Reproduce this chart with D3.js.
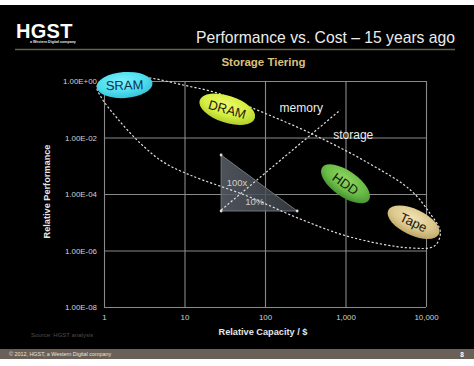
<!DOCTYPE html>
<html>
<head>
<meta charset="utf-8">
<script src="https://cdn.jsdelivr.net/npm/d3@7"></script>
<style>
  html, body { margin: 0; padding: 0; background: #fff; }
  svg { display: block; font-family: "Liberation Sans", Arial, sans-serif; }
</style>
</head>
<body>
<svg id="chart" width="474" height="366"></svg>
<script>
// ---------- data ----------
const tierNames = ["SRAM", "DRAM", "HDD", "Tape"];
const tierCapacity = [1.8, 34, 1000, 7000];
const tierPerformance = [0.72, 0.1, 2.3e-4, 1e-5];

const xTickValues = [1, 10, 100, 1000, 10000];
const xTickLabels = ["1", "10", "100", "1,000", "10,000"];
const yTickValues = [1, 1e-2, 1e-4, 1e-6, 1e-8];
const yTickLabels = ["1.00E+00", "1.00E-02", "1.00E-04", "1.00E-06", "1.00E-08"];

// dashed loop enclosing the tiers (capacity, performance)
const loopCapacity = [0.82, 1.58, 3.73, 9.6, 25.4, 65.5, 386, 1922, 6400, 11350, 15100, 12700, 6400, 1148, 274, 60, 11.7, 5.42, 2.8, 1.45, 0.92];
const loopPerformance = [0.665, 1.5, 1.28, 0.72, 0.376, 0.12, 0.0133, 1.25e-3, 1.39e-4, 1.96e-5, 4.5e-6, 1.44e-6, 1.23e-6, 3.0e-6, 1.3e-5, 8.5e-5, 4.7e-4, 1.36e-3, 6.4e-3, 0.049, 0.27];

// memory / storage divider
const dividerCapacity = [28.5, 861];
const dividerPerformance = [2.7e-5, 0.094];

// cost-performance triangle
const triangleCapacity = [28.5, 28.5, 251];
const trianglePerformance = [2.4e-3, 2.5e-5, 2.5e-5];

const annotationLabels = ["memory", "storage", "100x", "10%"];
const annotationCapacity = [282, 705, 45, 74.5];
const annotationPerformance = [0.11, 0.0123, 2.45e-4, 5.2e-5];

// ---------- styles ----------
const tierStyle = {
  SRAM: { rx: 28, ry: 13, angle: -4, text: -2, light: "#7ef0fb", mid: "#4fe0f0", dark: "#33bfd6", ink: "#0f2f4a" },
  DRAM: { rx: 29, ry: 13.5, angle: 18, text: 16, light: "#eef86a", mid: "#d6ee42", dark: "#aac62c", ink: "#1a1a10" },
  HDD:  { rx: 28.5, ry: 13, angle: 35, text: 35, light: "#8fd660", mid: "#6bbd48", dark: "#3f8a2c", ink: "#142010" },
  Tape: { rx: 28, ry: 13, angle: 25, text: 25, light: "#f0e2b2", mid: "#dcc98e", dark: "#b89f62", ink: "#1a1408" }
};

const svg = d3.select("#chart");
const W = 474, H = 366;

// slide background
svg.append("rect").attr("x", 0).attr("y", 0).attr("width", W).attr("height", H).attr("fill", "#fff");
svg.append("rect").attr("x", 0).attr("y", 5).attr("width", W).attr("height", 344).attr("fill", "#000");
svg.append("rect").attr("x", 0).attr("y", 349).attr("width", W).attr("height", 10).attr("fill", "#6b6058");

// header
svg.append("text").attr("x", 16).attr("y", 37.5).attr("fill", "#fff")
  .attr("font-size", 20).attr("font-weight", "bold").attr("letter-spacing", 0.3).text("HGST");
svg.append("text").attr("x", 30).attr("y", 43).attr("fill", "#e8e8e8")
  .attr("font-size", 3.6).attr("font-weight", "bold").text("a Western Digital company");
svg.append("text").attr("x", 455).attr("y", 43).attr("text-anchor", "end").attr("fill", "#ececec")
  .attr("font-size", 15.7).text("Performance vs. Cost \u2013 15 years ago");
svg.append("line").attr("x1", 15).attr("x2", 455).attr("y1", 49.5).attr("y2", 49.5)
  .attr("stroke", "#66614a").attr("stroke-width", 1.5);
svg.append("text").attr("x", 263.5).attr("y", 66).attr("text-anchor", "middle").attr("fill", "#d9c27c")
  .attr("font-size", 11.5).attr("font-weight", "bold").text("Storage Tiering");

// scales
const x = d3.scaleLog().domain([1, 1e4]).range([104, 426]);
const y = d3.scaleLog().domain([1e-8, 1]).range([307, 81]);

// grid + axes
const gx = svg.append("g").attr("transform", "translate(0,307)")
  .call(d3.axisBottom(x).tickValues(xTickValues).tickSize(-226).tickPadding(7)
    .tickFormat((d, i) => xTickLabels[i]));
const gy = svg.append("g").attr("transform", "translate(104,0)")
  .call(d3.axisLeft(y).tickValues(yTickValues).tickSize(-322).tickPadding(7)
    .tickFormat((d, i) => yTickLabels[i]));
[gx, gy].forEach(g => {
  g.select(".domain").remove();
  g.selectAll(".tick line").attr("stroke", "#8a8a8a").attr("stroke-width", 1.1);
  g.selectAll(".tick text").attr("fill", "#d2d2d2").attr("font-size", 7.9)
    .attr("font-family", "'Liberation Sans', Arial, sans-serif");
});

// axis titles
svg.append("text").attr("x", 263).attr("y", 334.5).attr("text-anchor", "middle").attr("fill", "#e6e6e6")
  .attr("font-size", 9.2).attr("font-weight", "bold").text("Relative Capacity / $");
svg.append("text").attr("transform", "translate(50,191.5) rotate(-90)").attr("text-anchor", "middle")
  .attr("fill", "#e6e6e6").attr("font-size", 9.2).attr("font-weight", "bold").text("Relative Performance");
svg.append("text").attr("x", 31).attr("y", 337).attr("fill", "#4e4e4e").attr("font-size", 6)
  .text("Source: HGST analysis");

// footer
svg.append("text").attr("x", 9).attr("y", 356).attr("fill", "#e8e2dc").attr("font-size", 5.4)
  .text("\u00a9 2012, HGST, a Western Digital company");
svg.append("text").attr("x", 462).attr("y", 356.5).attr("fill", "#fff").attr("font-size", 6.5)
  .attr("font-weight", "bold").attr("text-anchor", "middle").text("8");

// triangle
const triPts = triangleCapacity.map((c, i) => [x(c), y(trianglePerformance[i])]);
const defs = svg.append("defs");
const tg = defs.append("linearGradient").attr("id", "triGrad").attr("x1", 0).attr("y1", 0).attr("x2", 1).attr("y2", 0);
tg.append("stop").attr("offset", 0).attr("stop-color", "#5b616a");
tg.append("stop").attr("offset", 1).attr("stop-color", "#3c424a");
svg.append("path").attr("d", d3.line()(triPts) + "Z").attr("fill", "url(#triGrad)").attr("fill-opacity", 0.85)
  .attr("stroke", "#7a7e84").attr("stroke-width", 0.9);
svg.selectAll(".tridot").data(triPts).join("circle").attr("cx", d => d[0]).attr("cy", d => d[1])
  .attr("r", 1.4).attr("fill", "#ddd");

// dashed loop
const loopPts = loopCapacity.map((c, i) => [x(c), y(loopPerformance[i])]);
svg.append("path").attr("d", d3.line().curve(d3.curveCatmullRomClosed.alpha(0.5))(loopPts))
  .attr("fill", "none").attr("stroke", "#e0e0e0").attr("stroke-width", 1.2).attr("stroke-dasharray", "2.2,2");

// divider
svg.append("line")
  .attr("x1", x(dividerCapacity[0])).attr("y1", y(dividerPerformance[0]))
  .attr("x2", x(dividerCapacity[1])).attr("y2", y(dividerPerformance[1]))
  .attr("stroke", "#e0e0e0").attr("stroke-width", 1.2).attr("stroke-dasharray", "2.2,2");

// annotations
const annSize = [12, 12, 9.5, 9.5];
const annAnchor = ["middle", "start", "middle", "middle"];
const annColor = ["#ececec", "#ececec", "#cfcfcf", "#cfcfcf"];
annotationLabels.forEach((t, i) => {
  svg.append("text").attr("x", x(annotationCapacity[i])).attr("y", y(annotationPerformance[i]))
    .attr("dy", "0.35em").attr("text-anchor", annAnchor[i]).attr("fill", annColor[i])
    .attr("font-size", annSize[i]).text(t);
});

// tier ellipses
tierNames.forEach((name, i) => {
  const s = tierStyle[name];
  const g = defs.append("radialGradient").attr("id", "g" + name)
    .attr("cx", "45%").attr("cy", "35%").attr("r", "70%");
  g.append("stop").attr("offset", 0).attr("stop-color", s.light);
  g.append("stop").attr("offset", 0.55).attr("stop-color", s.mid);
  g.append("stop").attr("offset", 1).attr("stop-color", s.dark);
});
const tiers = svg.selectAll(".tier").data(tierNames).join("g").attr("class", "tier")
  .attr("transform", (d, i) => `translate(${x(tierCapacity[i])},${y(tierPerformance[i])})`);
tiers.append("ellipse").attr("rx", d => tierStyle[d].rx).attr("ry", d => tierStyle[d].ry)
  .attr("transform", d => `rotate(${tierStyle[d].angle})`)
  .attr("fill", d => `url(#g${d})`);
tiers.append("text").attr("transform", d => `rotate(${tierStyle[d].text})`)
  .attr("text-anchor", "middle").attr("dy", "0.36em").attr("font-size", 13)
  .attr("fill", d => tierStyle[d].ink).text(d => d);
</script>
</body>
</html>
